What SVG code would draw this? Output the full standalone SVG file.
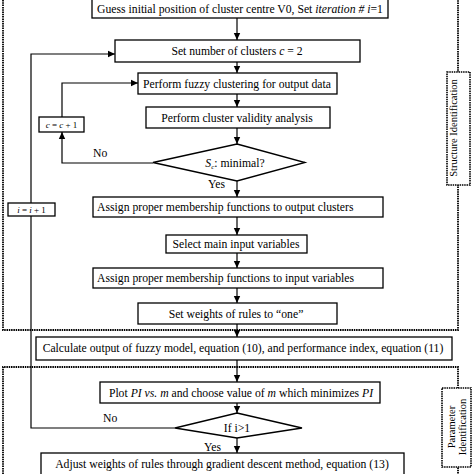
<svg xmlns="http://www.w3.org/2000/svg" width="474" height="474" viewBox="0 0 474 474">
<style>
.box{fill:#fff;stroke:#000;stroke-width:1.3}
.t{font-family:"Liberation Serif","Times New Roman",serif;font-size:11.7px;fill:#000}
.s{font-family:"Liberation Serif","Times New Roman",serif;font-size:9px;fill:#000}
.lb{font-family:"Liberation Serif","Times New Roman",serif;font-size:10.5px;fill:#000}
.c{text-anchor:middle}
.ln{fill:none;stroke:#000;stroke-width:1.2}
.dash{fill:none;stroke:#000;stroke-width:1.8;stroke-dasharray:1.5 0.8}
.dbox{fill:#fff;stroke:#000;stroke-width:1.6;stroke-dasharray:1.5 0.8}
</style>
<defs>
<marker id="ar" markerWidth="8" markerHeight="8" refX="7" refY="4" orient="auto" markerUnits="userSpaceOnUse">
<path d="M0,0.8 L7,4 L0,7.2 Z" fill="#000"/>
</marker>
</defs>
<rect width="474" height="474" fill="#fff"/>
<g id="boundaries">
<path class="dash" d="M3,0 V330 H458 V0"/>
<path class="dash" d="M3,474 V367 H458 V474"/>
</g>
<g id="connectors">
<line class="ln" x1="237" y1="18" x2="237" y2="40" marker-end="url(#ar)"/>
<line class="ln" x1="237" y1="62" x2="237" y2="73" marker-end="url(#ar)"/>
<line class="ln" x1="237" y1="94" x2="237" y2="107" marker-end="url(#ar)"/>
<line class="ln" x1="237" y1="128" x2="237" y2="144" marker-end="url(#ar)"/>
<line class="ln" x1="237" y1="181" x2="237" y2="197" marker-end="url(#ar)"/>
<line class="ln" x1="237" y1="217" x2="237" y2="235" marker-end="url(#ar)"/>
<line class="ln" x1="237" y1="253" x2="237" y2="268" marker-end="url(#ar)"/>
<line class="ln" x1="237" y1="288" x2="237" y2="303" marker-end="url(#ar)"/>
<line class="ln" x1="237" y1="324" x2="237" y2="337" marker-end="url(#ar)"/>
<line class="ln" x1="237" y1="360" x2="237" y2="382" marker-end="url(#ar)"/>
<line class="ln" x1="237" y1="403" x2="237" y2="413" marker-end="url(#ar)"/>
<line class="ln" x1="237" y1="438" x2="237" y2="453" marker-end="url(#ar)"/>
<polyline class="ln" points="153,163 62,163 62,132" marker-end="url(#ar)"/>
<polyline class="ln" points="62,117 62,83 138,83" marker-end="url(#ar)"/>
<polyline class="ln" points="175,428 31,428 31,54 115,54" marker-end="url(#ar)"/>
</g>
<g id="n_guess"><rect class="box" x="92" y="-5" width="296" height="23"/><text class="t c" x="240" y="13">Guess initial position of cluster centre V0, Set <tspan font-style="italic">iteration # i</tspan>=1</text></g>
<g id="n_setc"><rect class="box" x="115" y="40" width="245" height="22"/><text class="t c" x="237" y="55">Set number of clusters <tspan font-style="italic">c</tspan> = 2</text></g>
<g id="n_fuzzy"><rect class="box" x="138" y="73" width="199" height="21"/><text class="t c" x="237" y="88">Perform fuzzy clustering for output data</text></g>
<g id="n_valid"><rect class="box" x="146" y="107" width="184" height="21"/><text class="t c" x="237" y="122">Perform cluster validity analysis</text></g>
<g id="n_sc"><polygon class="box" points="237,144 305,162.5 237,181 153,162.5"/><text class="t c" x="235" y="167"><tspan font-style="italic">S</tspan><tspan font-style="italic" font-size="7px" dy="2">c</tspan><tspan dy="-2">:  minimal?</tspan></text></g>
<g id="n_cc"><rect class="box" x="39" y="117" width="45" height="15"/><text class="s c" x="61.5" y="128"><tspan font-style="italic">c</tspan> = <tspan font-style="italic">c</tspan> + 1</text></g>
<g id="n_ii"><rect class="box" x="8" y="203" width="47" height="13"/><text class="s c" x="31.5" y="213"><tspan font-style="italic">i</tspan> = <tspan font-style="italic">i</tspan> + 1</text></g>
<g id="n_outmf"><rect class="box" x="93" y="197" width="290" height="20"/><text class="t" x="97" y="211">Assign proper membership functions to output clusters</text></g>
<g id="n_select"><rect class="box" x="166" y="235" width="141" height="18"/><text class="t c" x="236" y="248">Select main input variables</text></g>
<g id="n_inmf"><rect class="box" x="93" y="268" width="290" height="20"/><text class="t" x="97" y="282">Assign proper membership functions to input variables</text></g>
<g id="n_weights"><rect class="box" x="138" y="303" width="199" height="21"/><text class="t c" x="236" y="318">Set weights of rules to “one”</text></g>
<g id="n_calc"><rect class="box" x="36" y="337" width="416" height="23"/><text class="t c" x="243" y="352">Calculate output of fuzzy model, equation (10), and performance index, equation (11)</text></g>
<g id="n_plot"><rect class="box" x="100" y="382" width="280" height="21"/><text class="t c" x="241" y="397">Plot <tspan font-style="italic">PI vs. m</tspan> and choose value of  <tspan font-style="italic">m</tspan> which minimizes <tspan font-style="italic">PI</tspan></text></g>
<g id="n_if"><polygon class="box" points="237,413 302,428 237,438 175,428"/><text class="t c" x="237" y="432">If i&gt;1</text></g>
<g id="n_adjust"><rect class="box" x="41" y="453" width="363" height="26"/><text class="t c" x="222" y="468">Adjust weights of rules through gradient descent method, equation (13)</text></g>
<g id="labels">
<text class="t" x="93" y="157">No</text>
<text class="t" x="208" y="188">Yes</text>
<text class="t" x="103" y="422">No</text>
<text class="t" x="204" y="451">Yes</text>
</g>
<g id="l_struct"><rect class="dbox" x="447" y="72" width="23" height="113"/><text class="lb c" transform="translate(457,128) rotate(-90)">Structure Identification</text></g>
<g id="l_param"><rect class="dbox" x="442" y="388" width="29" height="79"/><text class="lb c" transform="translate(455,427) rotate(-90)">Parameter</text><text class="lb c" transform="translate(466,427) rotate(-90)">Identification</text></g>
</svg>
